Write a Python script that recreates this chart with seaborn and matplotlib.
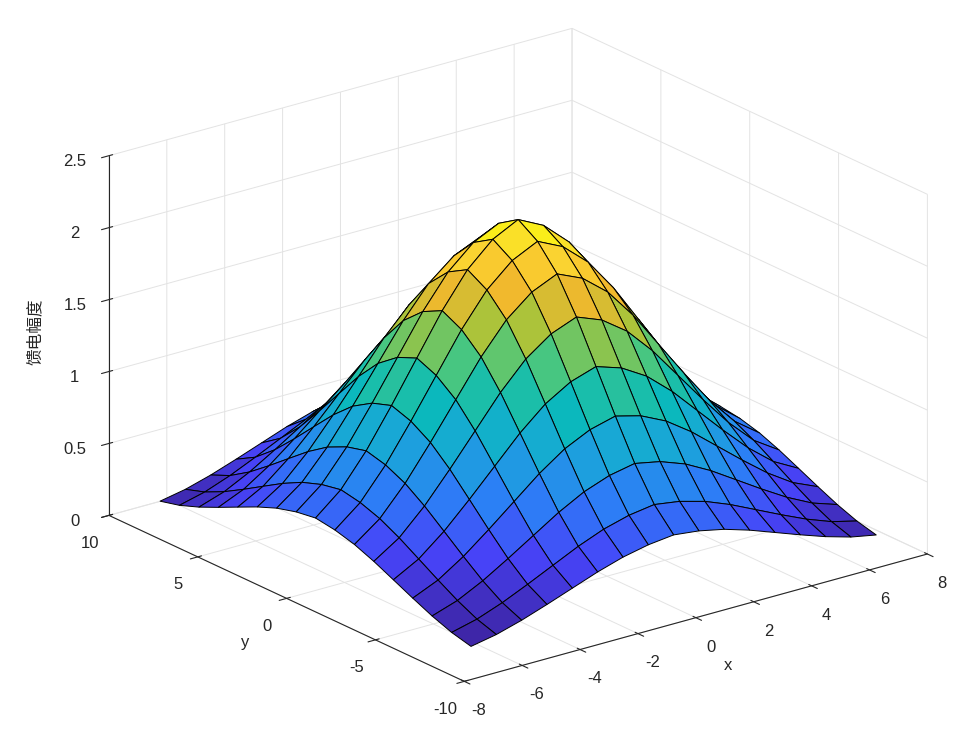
import numpy as np
import matplotlib
matplotlib.use('Agg')
import matplotlib.pyplot as plt
import seaborn as sns
from matplotlib.colors import LinearSegmentedColormap

sns.set_style('white')
plt.rcParams['font.family'] = ['Liberation Sans', 'Noto Sans CJK SC']
plt.rcParams['axes.unicode_minus'] = False

# eixos da grade e perfis (superfície = produto dos perfis)
x_vals = [-7, -6.125, -5.25, -4.375, -3.5, -2.625, -1.75, -0.875, 0,
          0.875, 1.75, 2.625, 3.5, 4.375, 5.25, 6.125, 7]
y_vals = [-8.75, -7.66, -6.56, -5.47, -4.38, -3.28, -2.19, -1.09, 0,
          1.09, 2.19, 3.28, 4.38, 5.47, 6.56, 7.66, 8.75]
perfil_x = [0.34, 0.44, 0.59, 0.77, 0.96, 1.15, 1.31, 1.42, 1.48,
            1.42, 1.31, 1.15, 0.96, 0.77, 0.59, 0.44, 0.34]
perfil_y = [0.34, 0.44, 0.59, 0.77, 0.96, 1.15, 1.31, 1.42, 1.48,
            1.42, 1.31, 1.15, 0.96, 0.77, 0.59, 0.44, 0.34]

X, Y = np.meshgrid(x_vals, y_vals)
Z = np.outer(perfil_y, perfil_x)

# aproximação do colormap parula
parula = LinearSegmentedColormap.from_list('parula', [
    '#3e26a8', '#4743f8', '#2c7ef6', '#1ba5da', '#09bbb9',
    '#4bc77d', '#a9c33a', '#f5b82c', '#fbd631', '#f9fb0e'])

fig = plt.figure(figsize=(9.68, 7.37), dpi=100)
ax = fig.add_axes([0.025, 0.005, 1.0, 1.0], projection='3d')
ax.set_proj_type('ortho')

norm = plt.Normalize(Z.min(), Z.max())
ax.plot_surface(X, Y, Z, facecolors=parula(norm(Z)), edgecolor='black',
                linewidth=0.7, shade=False, antialiased=True)

ax.set_xlim(-8, 8)
ax.set_ylim(-10, 10)
ax.set_zlim(0, 2.5)
ax.set_xticks(np.arange(-8, 9, 2))
ax.set_yticks(np.arange(-10, 11, 5))
ax.set_zticks(np.arange(0, 2.6, 0.5))
ax.set_zticklabels(['0', '0.5', '1', '1.5', '2', '2.5'])
ax.set_xlabel('x', fontsize=12)
ax.set_ylabel('y', fontsize=12)
ax.zaxis.set_rotate_label(False)
ax.set_zlabel('馈电幅度', fontsize=12, family=['Noto Sans CJK SC'], rotation=90, labelpad=4)
ax.view_init(elev=21, azim=-127.5)
ax.set_box_aspect((1, 1, 0.66), zoom=1.2)

for eixo in (ax.xaxis, ax.yaxis, ax.zaxis):
    eixo.set_pane_color((1, 1, 1, 0))
    eixo.pane.set_edgecolor('#d0d0d0')
    eixo._axinfo['grid']['color'] = '#e3e3e3'
    eixo._axinfo['grid']['linewidth'] = 0.7
    eixo.line.set_color('#262626')
ax.tick_params(labelsize=12, colors='#262626')
ax.grid(True)

fig.savefig('out.png', dpi=100)
